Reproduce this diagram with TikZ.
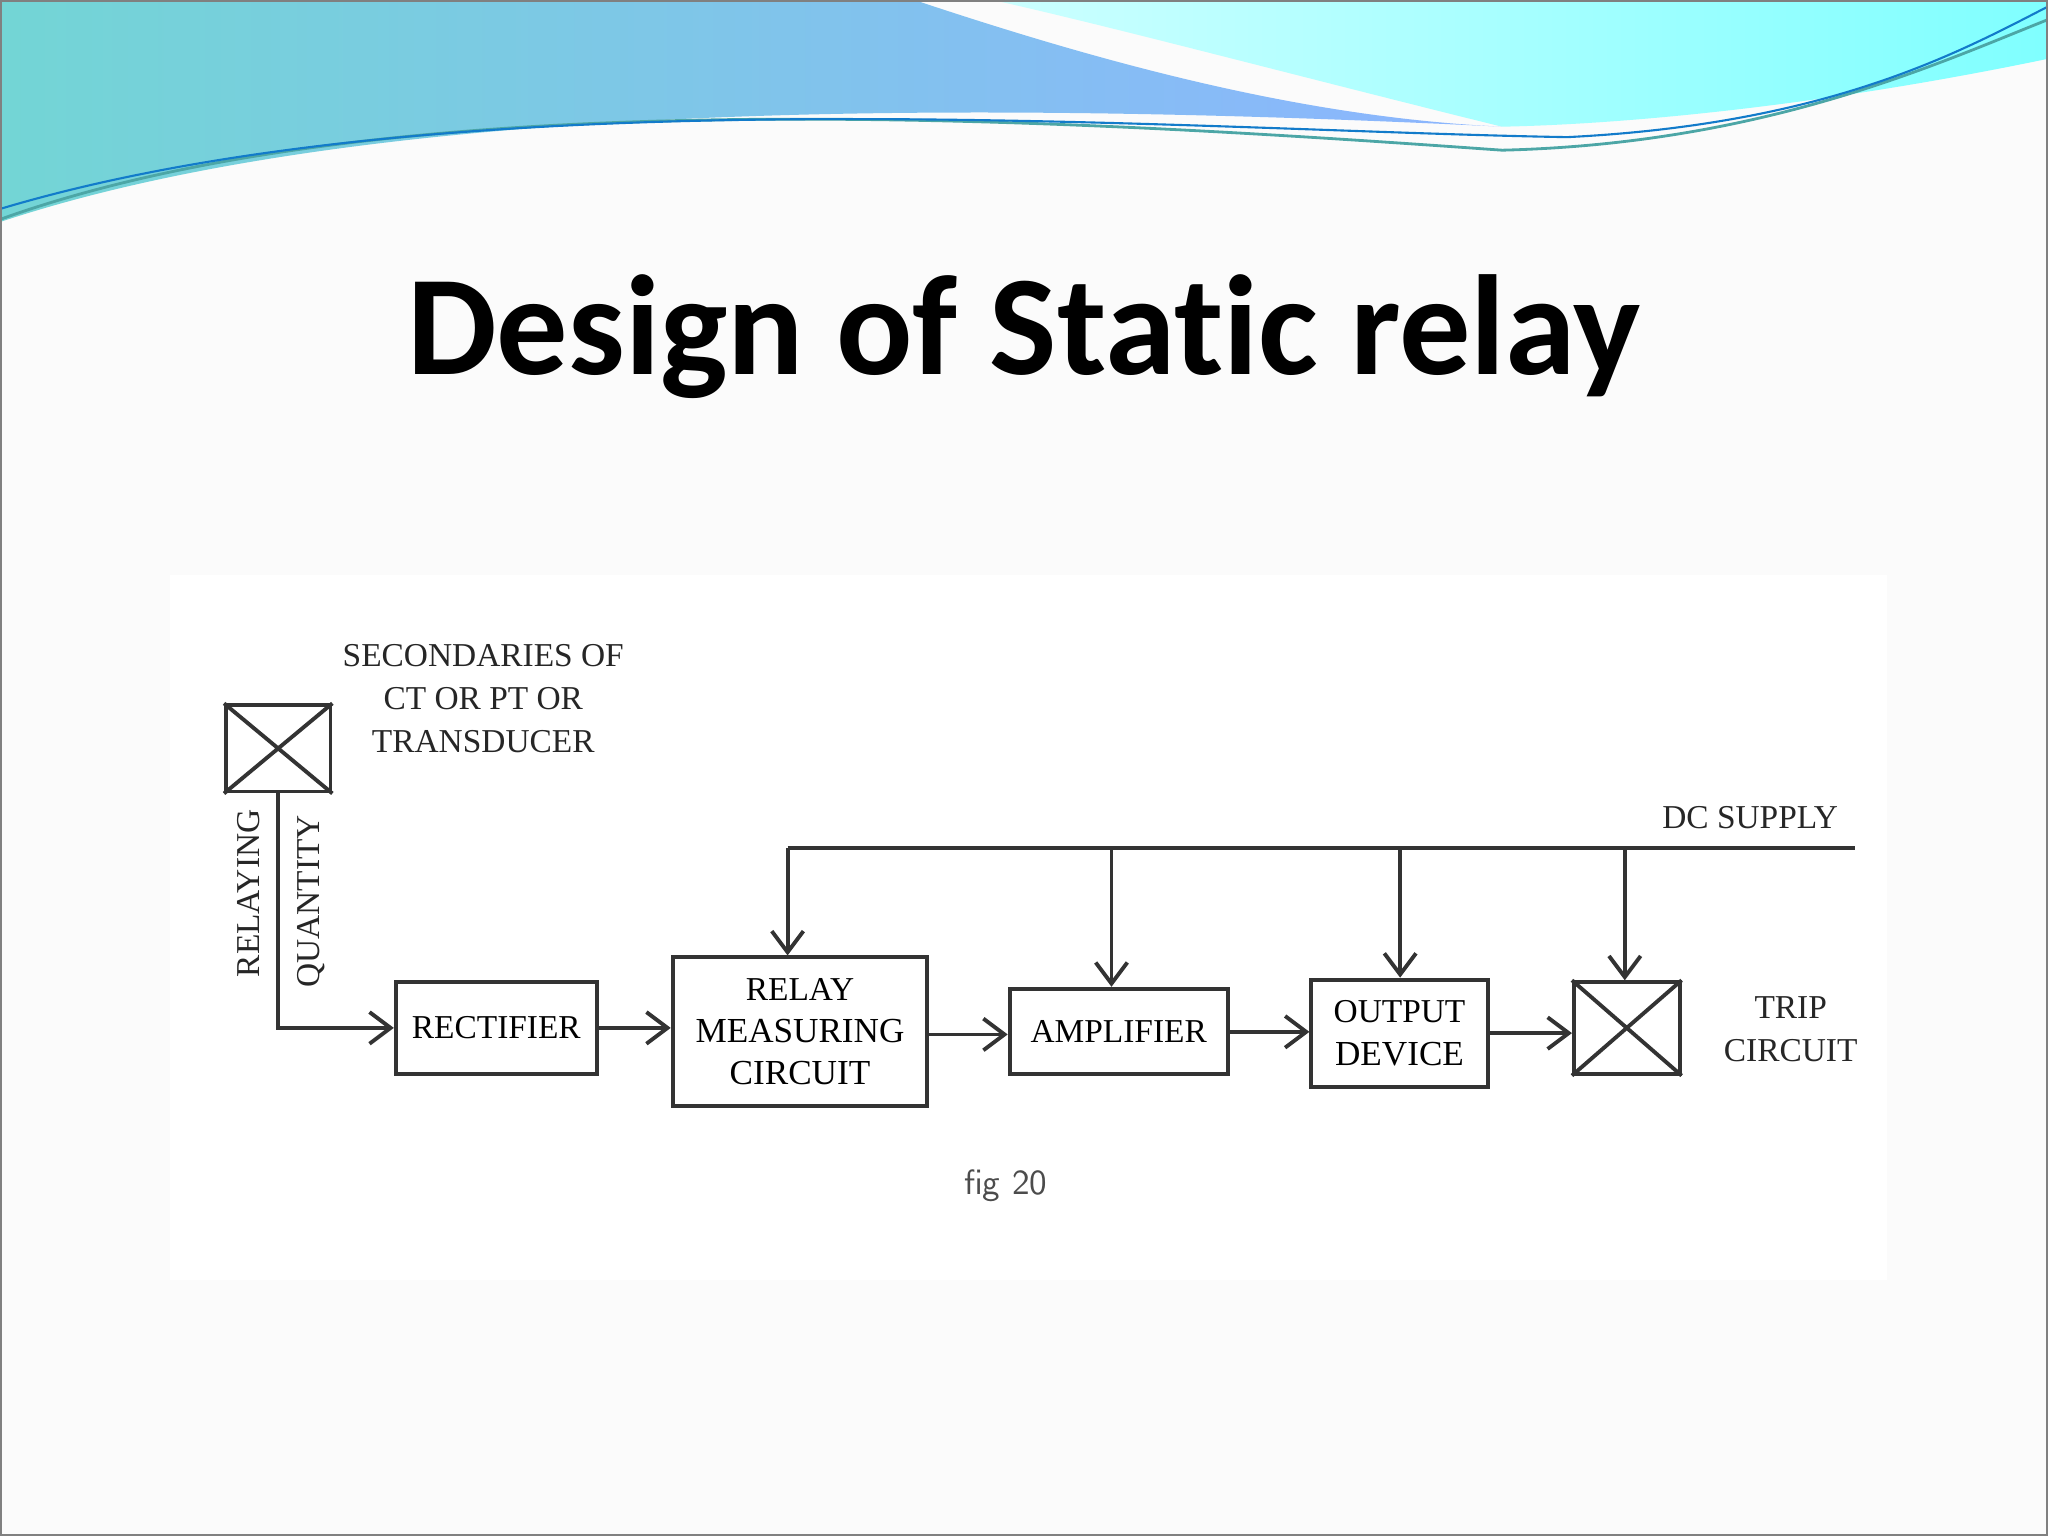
\documentclass[tikz,border=0pt]{standalone}
\usepackage{fontspec}
\setmainfont{Liberation Serif}
\newfontfamily\titlefont[Ligatures={NoCommon}]{Carlito}
\usetikzlibrary{arrows.meta}
\def\u{0.013061cm}
\begin{document}
\begin{tikzpicture}[x=0.013061cm,y=-0.013061cm,
  blk/.style={draw=black!80,line width=1.1pt,inner sep=0pt},
  lbl/.style={font=\fontsize{9.5}{12}\selectfont,text=black!85,align=center},
  wire/.style={draw=black!80,line width=1.1pt},
  arr/.style={wire,-{Straight Barb[length=6pt,width=9pt]}}]
\useasboundingbox (0,0) rectangle (1568,1176);
\fill[white!97!gray] (0,0) rectangle (1568,1176);
\fill[white] (130,440) rectangle (1445,980);
% header
\shade[left color=cyan!40!teal!55!white,right color=cyan!35!blue!45!white] (0,0) -- (700,0) .. controls (850,50) and (1000,90) .. (1150,97) .. controls (800,80) and (300,70) .. (0,170) -- cycle;
\shade[left color=cyan!20!white,right color=cyan!50!white] (760,0) -- (1568,0) -- (1568,45) .. controls (1400,80) and (1250,95) .. (1150,97) .. controls (1000,60) and (850,20) .. (760,0) -- cycle;
\draw[teal!70,line width=0.8pt] (0,168) .. controls (300,60) and (800,90) .. (1150,115) .. controls (1350,110) and (1480,50) .. (1568,15);
\draw[cyan!60!blue,line width=0.6pt] (0,160) .. controls (350,55) and (900,100) .. (1200,105) .. controls (1400,95) and (1500,40) .. (1568,5);
\draw[gray,line width=1pt] (0,0) rectangle (1568,1176);
\node[font=\titlefont\bfseries\fontsize{40.5}{46}\selectfont] (title) at (784,258) {Design of Static relay};
% diagram
\node[blk,minimum width=80*\u,minimum height=66*\u] (src) at (213,573) {};
\draw[wire] (src.north west) -- (src.south east) (src.north east) -- (src.south west);
\node[lbl,font=\fontsize{9.5}{12.3}\selectfont,align=center] (sec) at (370,535) {SECONDARIES OF\\CT OR PT OR\\TRANSDUCER};
\node[lbl,rotate=90] (rel) at (190,684) {RELAYING};
\node[lbl,rotate=90] (qty) at (238,690) {QUANTITY};
\node[blk,minimum width=154*\u,minimum height=70*\u] (rect) at (380,787) {\fontsize{9.5}{12}\selectfont RECTIFIER};
\node[blk,minimum width=195*\u,minimum height=114*\u,align=center] (meas) at (612.5,790) {\fontsize{9.5}{12.3}\selectfont RELAY\\MEASURING\\CIRCUIT};
\node[blk,minimum width=167*\u,minimum height=65*\u] (amp) at (856.5,789.5) {\fontsize{9.5}{12}\selectfont AMPLIFIER};
\node[blk,minimum width=135*\u,minimum height=82*\u,align=center] (out) at (1071.5,791) {\fontsize{9.5}{12}\selectfont OUTPUT\\DEVICE};
\node[blk,minimum width=81*\u,minimum height=70*\u] (trip) at (1245.5,787) {};
\draw[wire] (trip.north west) -- (trip.south east) (trip.north east) -- (trip.south west);
\node[lbl,font=\fontsize{9.5}{12}\selectfont] (tc) at (1371,788) {TRIP\\CIRCUIT};
\node[lbl] (dcl) at (1340,626) {DC SUPPLY};
\node[font=\sffamily\fontsize{10}{12}\selectfont,text=black!70] (fig) at (770,908) {fig 20};
\coordinate (c1) at (213,787);
\coordinate (d0) at (603,649);
\coordinate (dend) at (1420,649);
\coordinate (d1) at (851,649);
\coordinate (d2) at (1072,649);
\coordinate (d3) at (1244,649);
\draw[arr] (src.south) -- (c1) -- (rect.west);
\draw[arr] (rect.east) -- (rect.east -| meas.west);
\draw[arr] (meas.east |- 0,792) -- (amp.west |- 0,792);
\draw[arr] (amp.east |- 0,790) -- (out.west |- 0,790);
\draw[arr] (out.east |- 0,791) -- (trip.west |- 0,791);
\draw[wire] (d0) -- (dend);
\draw[arr] (d0) -- (d0 |- meas.north);
\draw[arr] (d1) -- (d1 |- amp.north);
\draw[arr] (d2) -- (d2 |- out.north);
\draw[arr] (d3) -- (d3 |- trip.north);
\end{tikzpicture}
\end{document}
